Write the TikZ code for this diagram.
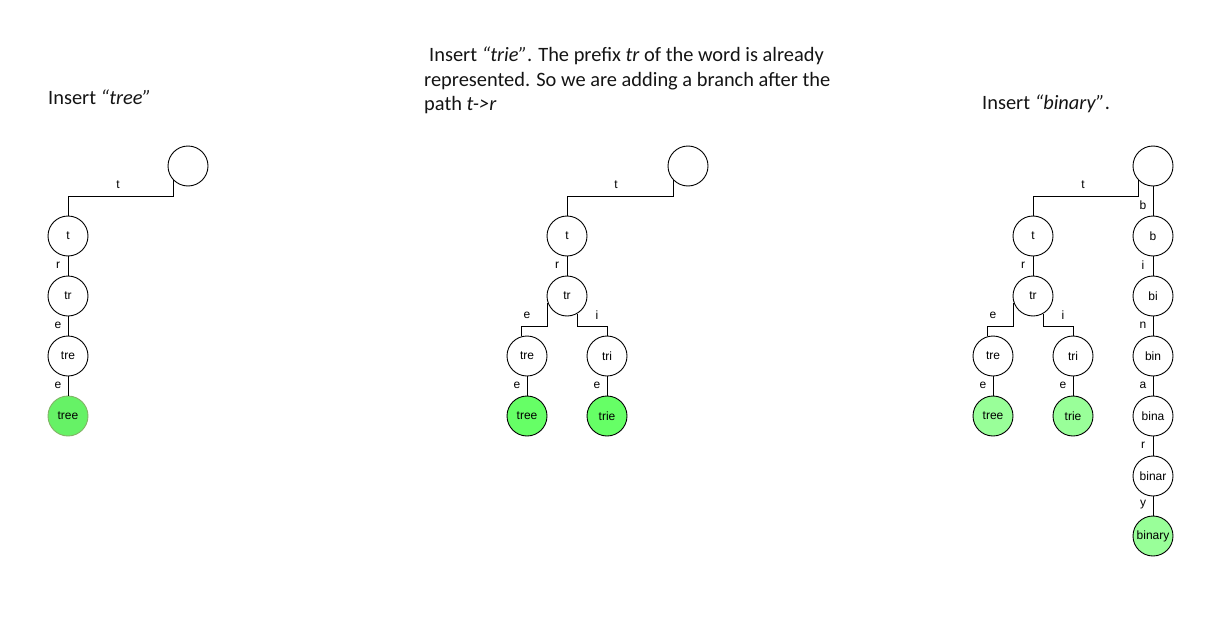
\documentclass[tikz,border=0pt]{standalone}
\usepackage{fontspec}
\setmainfont{Carlito}
\newfontfamily\nodefont{Liberation Sans}
\usetikzlibrary{positioning}
\definecolor{leafa}{HTML}{66F266}
\definecolor{leafaline}{HTML}{82B366}
\definecolor{leafb}{HTML}{66FF66}
\definecolor{leafc}{HTML}{99FF99}
\tikzset{trienode/.style = {draw, circle, inner sep = 0, minimum size = 40, line width = 0.9, font = \nodefont\fontsize{12}{14}\selectfont}}
\tikzset{leafa/.style = {trienode, fill = leafa, draw = leafaline}}
\tikzset{leafb/.style = {trienode, fill = leafb}}
\tikzset{leafc/.style = {trienode, fill = leafc}}
\tikzset{lbl/.style = {inner sep = 0, font = \nodefont\fontsize{12}{14}\selectfont}}
\tikzset{caption/.style = {inner sep = 0, anchor = base west, font = \fontsize{20.4}{24}\selectfont, text = black!92}}
\tikzset{edge/.style = {line width = 0.9}}

\begin{document}
\begin{tikzpicture}[x = 1pt, y = -1pt]
      \useasboundingbox (0, 0) rectangle (1231, 626);
      % captions
      \node [caption] (cap1) at (48, 104) {Insert \textit{“tree”}};
      \node [caption] (cap2a) at (429, 62) {Insert \textit{“trie”}. The prefix \textit{tr} of the word is already};
      \node [caption] (cap2b) at (424, 86) {represented. So we are adding a branch after the};
      \node [caption] (cap2c) at (424, 110) {path \textit{t->r}};
      \node [caption] (cap3) at (982, 109) {Insert \textit{“binary”}.};

      % first trie
      \node [trienode] (r1) at (188, 166) {};
      \node [trienode] (t1) at (68, 236) {t};
      \node [trienode] (tr1) at (68, 296) {tr};
      \node [trienode] (tre1) at (68, 356) {tre};
      \node [leafa] (tree1) at (68, 416) {tree};
      \draw [edge] (r1.225) -- ++(0, 16) -| (t1.north);
      \foreach \a/\b in {t1/tr1, tr1/tre1, tre1/tree1} {
        \draw [edge] (\a) -- (\b);
      }
      \node [lbl] (lt1) at (118, 185) {t};
      \node [lbl] (lr1) at (58, 265) {r};
      \node [lbl] (le1) at (58, 325) {e};
      \node [lbl] (lee1) at (58, 385) {e};

      % second trie
      \node [trienode] (r2) at (688, 166) {};
      \node [trienode] (t2) at (567, 236) {t};
      \node [trienode] (tr2) at (567, 296) {tr};
      \node [trienode] (tre2) at (527, 356) {tre};
      \node [trienode] (tri2) at (607, 356) {tri};
      \node [leafb] (tree2) at (527, 416) {tree};
      \node [leafb] (trie2) at (607, 416) {trie};
      \draw [edge] (r2.225) -- ++(0, 16) -| (t2.north);
      \draw [edge] (t2) -- (tr2);
      \draw [edge] (tr2.200) -- ++(0, 23) -| (tre2.105);
      \draw [edge] (tr2.300) -- ++(0, 13) -| (tri2.north);
      \draw [edge] (tre2) -- (tree2);
      \draw [edge] (tri2) -- (trie2);
      \node [lbl] (lt2) at (616, 185) {t};
      \node [lbl] (lr2) at (557, 265) {r};
      \node [lbl] (le2) at (527, 315) {e};
      \node [lbl] (li2) at (597, 315) {i};
      \node [lbl] (lee2) at (517, 385) {e};
      \node [lbl] (lie2) at (597, 385) {e};

      % third trie
      \node [trienode] (r3) at (1153, 166) {};
      \node [trienode] (t3) at (1033, 236) {t};
      \node [trienode] (tr3) at (1033, 296) {tr};
      \node [trienode] (tre3) at (993, 356) {tre};
      \node [trienode] (tri3) at (1073, 356) {tri};
      \node [leafc] (tree3) at (993, 416) {tree};
      \node [leafc] (trie3) at (1073, 416) {trie};
      \foreach \w [count = \i] in {b, bi, bin, bina, binar} {
        \node [trienode] (\w) at (1153, 176 + 60 * \i) {\w};
      }
      \node [leafc] (binary) at (1153, 536) {binary};
      \draw [edge] (r3.225) -- ++(0, 16) -| (t3.north);
      \draw [edge] (r3) -- (b);
      \draw [edge] (t3) -- (tr3);
      \draw [edge] (tr3.200) -- ++(0, 23) -| (tre3.107);
      \draw [edge] (tr3.300) -- ++(0, 13) -| (tri3.north);
      \draw [edge] (tre3) -- (tree3);
      \draw [edge] (tri3) -- (trie3);
      \foreach \a/\b/\l [count = \i] in {b/bi/i, bi/bin/n, bin/bina/a, bina/binar/r, binar/binary/y} {
        \draw [edge] (\a) -- (\b);
        \node [lbl] (lb\i) at (1143, 205 + 60 * \i) {\l};
      }
      \node [lbl] (lt3) at (1083, 185) {t};
      \node [lbl] (lb0) at (1143, 205) {b};
      \node [lbl] (lr3) at (1023, 265) {r};
      \node [lbl] (le3) at (993, 315) {e};
      \node [lbl] (li3) at (1063, 315) {i};
      \node [lbl] (lee3) at (983, 385) {e};
      \node [lbl] (lie3) at (1063, 385) {e};
    \end{tikzpicture}
\end{document}
